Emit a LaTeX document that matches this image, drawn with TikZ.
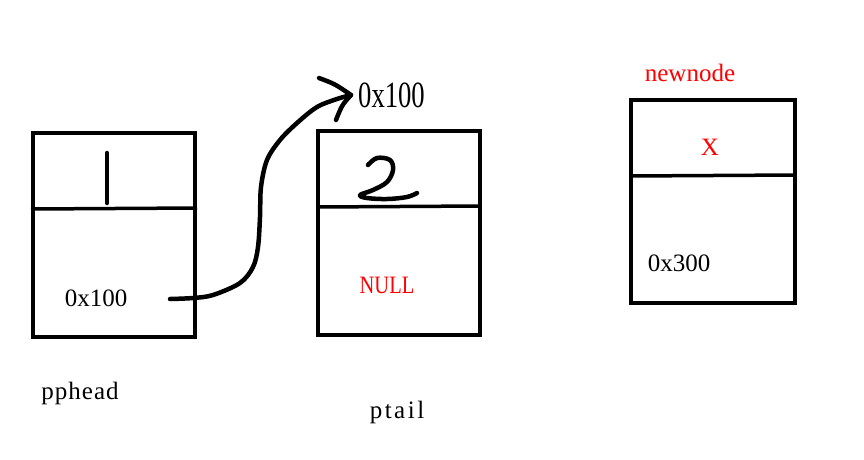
\documentclass[tikz,border=0pt]{standalone}
\usepackage{fontspec}
\setmainfont{Liberation Serif}
\begin{document}
\begin{tikzpicture}[x=1pt,y=-1pt,
  box/.style={draw, line width=4pt, inner sep=0pt, minimum width=162pt, minimum height=204pt},
  lbl/.style={font=\fontsize{25}{29}\selectfont, inner sep=0pt},
  redlbl/.style={lbl, text=red},
  ink/.style={line width=4.5pt, line cap=round, line join=round},
  divider/.style={line width=3.5pt}]
\useasboundingbox[fill=white] (0,0) rectangle (864,459);
% boxes
\node[box] (b1) at (114,235) {};
\node[box] (b2) at (399,233) {};
\node[box, minimum width=164pt, minimum height=203pt] (b3) at (713,201.5) {};
% dividers
\draw[divider] ([yshift=-78pt]b1.north west) -- ++(166,-1);
\draw[divider] ([yshift=-78pt]b2.north west) -- ++(165,-1);
\draw[divider] ([yshift=-78pt]b3.north west) -- ++(166,-1);
% hand written data
\draw[ink] (107,153) -- (107,203);
\draw[ink] plot[smooth, tension=0.6] coordinates {(368,165) (377,158) (390,160) (393,170) (387,182) (373,190) (360,195) (367,198) (387,199) (407,197) (417,193)};
% labels
\node[lbl] (p1) at (96,298) {0x100};
\node[redlbl] (null) at (387,285) {\scalebox{0.82}[1]{NULL}};
\node[redlbl] (xval) at (710,147) {X};
\node[lbl] (p3) at (679,263) {0x300};
\node[redlbl] (nn) at (690,73) {newnode};
\node[lbl] (ph) at (80,393) {\addfontfeature{LetterSpace=4}pphead};
\node[lbl] (pt) at (397,412) {\addfontfeature{LetterSpace=10}ptail};
\node[lbl, anchor=west, font=\fontsize{37}{40}\selectfont] (addr) at (358,95) {\scalebox{0.72}[1]{0x100}};
% arrow
\coordinate (s) at (170,299);
\coordinate (tip) at ([xshift=-7pt]addr.west);
\coordinate (barbA) at (319,78);
\coordinate (barbB) at (336,120);
\draw[ink] plot[smooth, tension=0.55] coordinates {(s) (193,298) (213,295) (240,283) (253,267) (258,247) (260,217) (261,187) (267,160) (280,140) (297,123) (317,107) (337,99) (tip)};
\draw[ink] (barbA) .. controls (335,84) .. (tip) .. controls (342,105) .. (barbB);
\end{tikzpicture}
\end{document}
